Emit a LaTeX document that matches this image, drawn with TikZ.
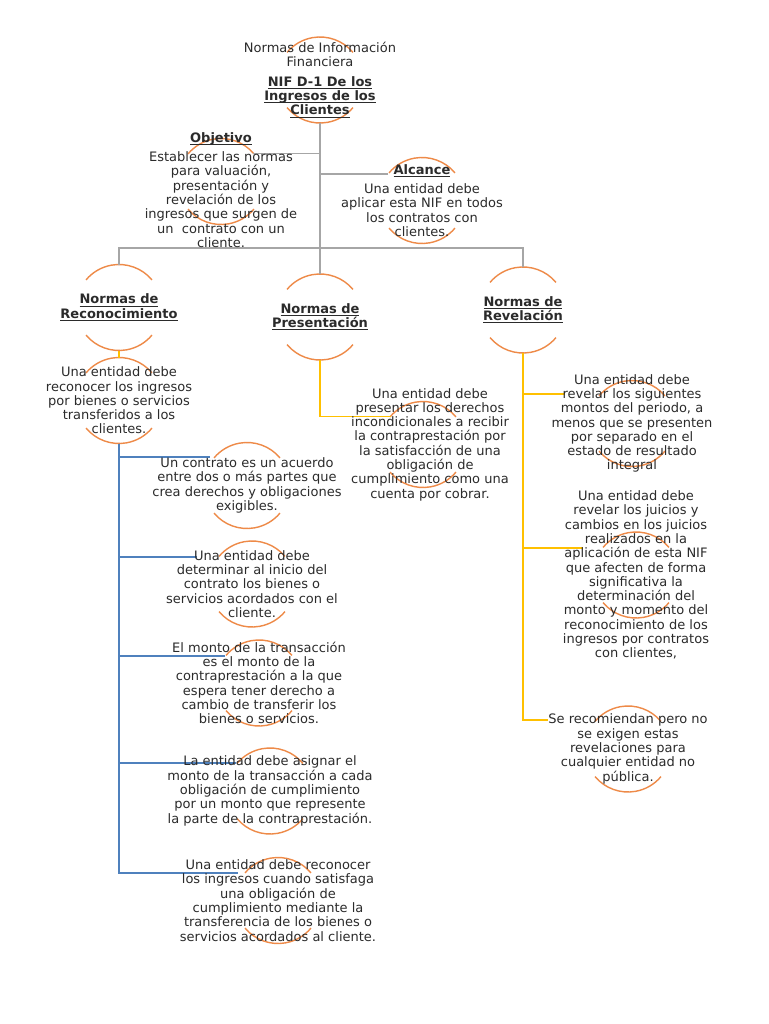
\documentclass[tikz,border=0pt]{standalone}
\usepackage{fontspec}
\setmainfont{DejaVu Sans}
\usepackage{xcolor}
\usepackage{tikz}
\usetikzlibrary{calc}
\definecolor{pgris}{HTML}{A6A6A6}
\definecolor{pnaranja}{HTML}{EE8A48}
\definecolor{pamarillo}{HTML}{FFC000}
\definecolor{pazul}{HTML}{4F81BD}
\definecolor{ptexto}{HTML}{2B2B2B}
\tikzset{
  % invisible ring: only its top and bottom arcs get drawn
  aro/.style   = {circle, minimum size=86pt, inner sep=0pt, outer sep=0pt},
  txt/.style   = {align=center, text=ptexto, inner sep=0pt,
                  font=\fontsize{13}{14.3}\selectfont},
  arco/.style  = {line width=1.4pt, pnaranja},
  rama/.style  = {line width=1.2pt, #1},
  rama/.default = pgris,
}
% bold title with a thick rule under it
\newcommand{\tit}[1]{\textbf{\setbox0\hbox{#1}\rlap{\rule[-2.8pt]{\wd0}{1.1pt}}\box0}}

\begin{document}
\begin{tikzpicture}[x=1pt,y=1pt]
\useasboundingbox[fill=white] (0,0) rectangle (768,-1024);

% rings
\node[aro] (nif)  at (320,-80)    {};
\node[aro] (obj)  at (221,-181.5) {};
\node[aro] (alc)  at (422,-200.5) {};
\node[aro] (nrec) at (119,-307.5) {};
\node[aro] (npre) at (320,-317)   {};
\node[aro] (nrev) at (523,-310)   {};
\node[aro] (rec0) at (119,-400.5) {};
\node[aro] (rec1) at (247,-485.5) {};
\node[aro] (rec2) at (252,-584)   {};
\node[aro] (rec3) at (259,-683)   {};
\node[aro] (rec4) at (270,-791)   {};
\node[aro] (rec5) at (278,-900.5) {};
\node[aro] (pre1) at (423,-444.5) {};
\node[aro] (rev1) at (632,-423.5) {};
\node[aro] (rev2) at (636,-575)   {};
\node[aro] (rev3) at (628,-749)   {};

\foreach \n in {nif,obj,alc,nrec,npre,nrev,rec0,rec1,rec2,rec3,rec4,rec5,pre1,rev1,rev2,rev3}{
  \draw[arco] (\n.40) arc[start angle=40, end angle=140, radius=43];
  \draw[arco] (\n.220) arc[start angle=220, end angle=320, radius=43];
}

% free ends of the branches
\coordinate (barra) at (320,-248);
\coordinate (e-rec1) at (210,-457);
\coordinate (e-rec2) at (197,-557);
\coordinate (e-rec3) at (225,-656);
\coordinate (e-rec4) at (236,-763);
\coordinate (e-rec5) at (238,-873);
\coordinate (e-rev1) at (565,-394);
\coordinate (e-rev2) at (583,-548);
\coordinate (e-rev3) at (548,-720);

% gray tree
\draw[rama] (nif.south) -- (barra);
\draw[rama] (obj.41) -- (obj.41 -| nif);
\draw[rama] (alc.142) -- (alc.142 -| nif);
\draw[rama] (nrec.north) |- (barra) -| (nrev.north);
\draw[rama] (barra) -- (npre.north);

% yellow branches
\draw[rama=pamarillo] (nrec.south) -- (rec0.north);
\draw[rama=pamarillo] (npre.south) |- (pre1.139);
\foreach \e in {e-rev1,e-rev2,e-rev3}
  \draw[rama=pamarillo] (nrev.south) |- (\e);

% blue branches
\foreach \e in {e-rec1,e-rec2,e-rec3,e-rec4,e-rec5}
  \draw[rama=pazul] (rec0.south) |- (\e);

% texts
\node[txt] (t-nif) at (nif) {Normas de Información\\Financiera\\[5pt]
  \tit{NIF D-1 De los}\\\tit{Ingresos de los}\\\tit{Clientes}};
\node[txt] (t-obj) at ([yshift=-8.5]obj.center) {\tit{Objetivo}\\[5pt]
  Establecer las normas\\para valuación,\\presentación y\\revelación de los\\
  ingresos que surgen de\\un\ \ contrato con un\\cliente.};
\node[txt] (t-alc) at (alc) {\tit{Alcance}\\[5pt]Una entidad debe\\
  aplicar esta NIF en todos\\los contratos con\\clientes.};
\node[txt] (t-nrec) at (nrec) {\tit{Normas de}\\\tit{Reconocimiento}};
\node[txt] (t-npre) at (npre) {\tit{Normas de}\\\tit{Presentación}};
\node[txt] (t-nrev) at (nrev) {\tit{Normas de}\\\tit{Revelación}};
\node[txt] (t-rec0) at (rec0) {Una entidad debe\\reconocer los ingresos\\
  por bienes o servicios\\transferidos a los\\clientes.};
\node[txt] (t-rec1) at (rec1) {Un contrato es un acuerdo\\entre dos o más partes que\\
  crea derechos y obligaciones\\exigibles.};
\node[txt] (t-rec2) at (rec2) {Una entidad debe\\determinar al inicio del\\
  contrato los bienes o\\servicios acordados con el\\cliente.};
\node[txt] (t-rec3) at (rec3) {El monto de la transacción\\es el monto de la\\
  contraprestación a la que\\espera tener derecho a\\cambio de transferir los\\
  bienes o servicios.};
\node[txt] (t-rec4) at (rec4) {La entidad debe asignar el\\monto de la transacción a cada\\
  obligación de cumplimiento\\por un monto que represente\\la parte de la contraprestación.};
\node[txt] (t-rec5) at (rec5) {Una entidad debe reconocer\\los ingresos cuando satisfaga\\
  una obligación de\\cumplimiento mediante la\\transferencia de los bienes o\\
  servicios acordados al cliente.};
\node[txt] (t-pre1) at ([xshift=7]pre1.center) {Una entidad debe\\presentar los derechos\\
  incondicionales a recibir\\la contraprestación por\\la satisfacción de una\\
  obligación de\\cumplimiento como una\\cuenta por cobrar.};
\node[txt] (t-rev1) at (rev1) {Una entidad debe\\revelar los siguientes\\
  montos del periodo, a\\menos que se presenten\\por separado en el\\
  estado de resultado\\integral};
\node[txt] (t-rev2) at (rev2) {Una entidad debe\\revelar los juicios y\\
  cambios en los juicios\\realizados en la\\aplicación de esta NIF\\
  que afecten de forma\\significativa la\\determinación del\\
  monto y momento del\\reconocimiento de los\\ingresos por contratos\\con clientes,};
\node[txt] (t-rev3) at (rev3) {Se recomiendan pero no\\se exigen estas\\
  revelaciones para\\cualquier entidad no\\pública.};
\end{tikzpicture}
\end{document}
